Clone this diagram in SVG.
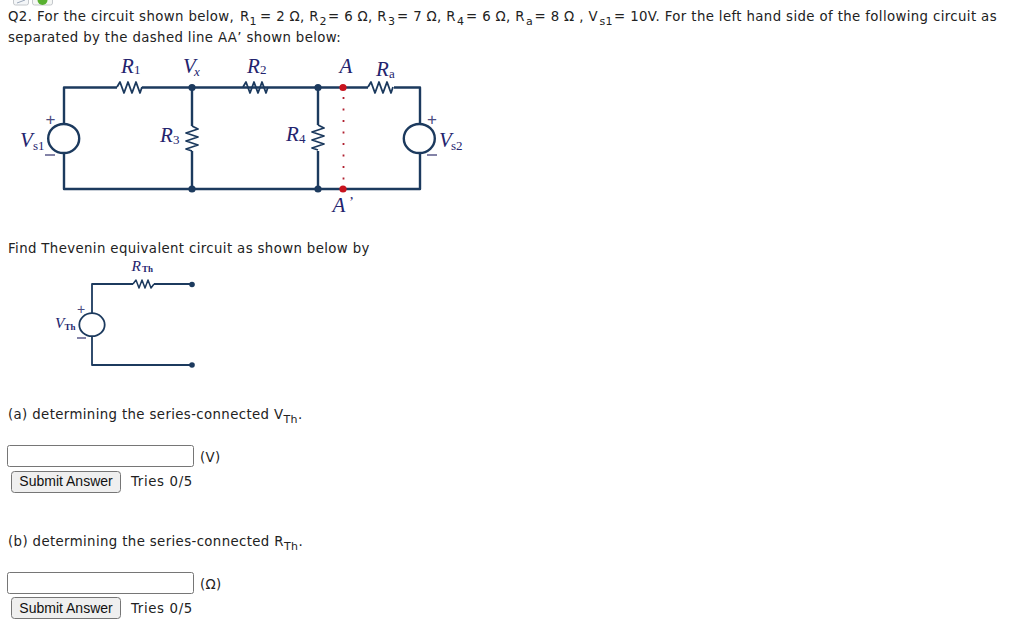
<svg xmlns="http://www.w3.org/2000/svg" width="1024" height="632" viewBox="0 0 1024 632">
<style>
.t{font-family:"DejaVu Sans",Verdana,sans-serif;font-size:13.3px;fill:#222;letter-spacing:.38px}
.y{letter-spacing:.65px}
.s{font-size:11px}
.m{font-family:"Liberation Serif",serif;fill:#24246e;font-style:italic;font-size:21px}
.u{font-family:"Liberation Serif",serif;fill:#24246e;font-size:13px}
.p{font-family:"Liberation Sans",sans-serif;fill:#4a4a80;font-size:17px}
.k{font-size:15.500px}
.h{font-size:9px;font-weight:bold}
.w{fill:none;stroke:#1c3a5e;stroke-width:2.400;stroke-linejoin:round}
.z{fill:none;stroke:#1c3a5e;stroke-width:1.800;stroke-linejoin:round}
.w2{fill:none;stroke:#1c3a5e;stroke-width:1.800;stroke-linejoin:round}
.n{stroke:#5a5a8a;stroke-width:1.500}
.b{font-family:"Liberation Sans",sans-serif;font-size:14px;fill:#111}
.d{fill:#1c3a5e}.r{fill:#c8141e}
.in{fill:#fff;stroke:#767676;stroke-width:1}
.btn{fill:#efefef;stroke:#767676;stroke-width:1}
</style>
<rect width="1024" height="632" fill="#fff"/>
<g id="icons">
<rect x="13.500" y="-6" width="15" height="11" rx="2" fill="#f4f6f8" stroke="#c4c8cc"/>
<path d="M17 3l8-3" stroke="#9aa6b8" fill="none"/>
<rect x="32.500" y="-6" width="20" height="11" rx="2" fill="#f4f6f4" stroke="#c4c8cc"/>
<circle cx="42.500" cy="0" r="5" fill="#58b030"/>
</g>
<g id="question">
<text class="t" y="21" xml:space="preserve"><tspan x="8">Q2. For the circuit shown below, </tspan><tspan x="240">R</tspan><tspan class="s" x="249.500" dy="4">1</tspan><tspan x="260" dy="-4">= 2 Ω, R</tspan><tspan class="s" x="319.500" dy="4">2</tspan><tspan x="328" dy="-4">= 6 Ω, R</tspan><tspan class="s" x="388" dy="4">3</tspan><tspan x="397" dy="-4">= 7 Ω, R</tspan><tspan class="s" x="457" dy="4">4</tspan><tspan x="466" dy="-4">= 6 Ω, R</tspan><tspan class="s" x="526" dy="4">a</tspan><tspan x="534.500" dy="-4">= 8 Ω , V</tspan><tspan class="s" x="599.500" dy="4">s1</tspan><tspan x="614" dy="-4">= 10V. For the left hand side of the following circuit as</tspan></text>
<text class="t" x="8" y="41.500">separated by the dashed line AA’ shown below:</text>
<text class="t" x="8" y="253">Find Thevenin equivalent circuit as shown below by</text>
<text class="t" x="8" y="419">(a) determining the series-connected V<tspan class="s" dy="4">Th</tspan><tspan dy="-4">.</tspan></text>
<text class="t" x="8" y="545.500">(b) determining the series-connected R<tspan class="s" dy="4">Th</tspan><tspan dy="-4">.</tspan></text>
</g>
<g id="connectors">
<path class="w" d="M64 124V87.500H117M142 87.500H368M394 87.500H420V124M420 153V189H64V153M192 87.500V126M192 151V189M318 87.500V125M318 151V189"/>
<path class="z" d="M117 87l3-5 4 11 4-11 4 11 4-11 4 11 2-6M243 87l3-5 4 11 4-11 4 11 4-11 4 11 2-6M368 87l3-5 4 11 4-11 4 11 4-11 4 11 2-6"/>
<path class="z" d="M192 126l6 3-12 4 12 4-12 4 12 4-12 4 6 2M318 125l6 3-12 4 12 4-12 4 12 4-12 4 6 2"/>
<line x1="343.500" y1="97" x2="343.500" y2="184" stroke="#b02030" stroke-width="1.800" stroke-dasharray="2 9.500"/>
<path class="w2" d="M92 313.500V284H133M154 284H192M92 336.500V365H192"/>
<path class="z" style="stroke-width:1.500" d="M133 284l3-4 3 8 3-8 3 8 3-8 3 8 3-4"/>
</g>
<g id="vs1"><ellipse class="w" cx="63.700" cy="138.500" rx="15.500" ry="14.500"/><text class="p" x="45.500" y="125">+</text><path class="n" d="M45 155h10"/><text class="m" x="20" y="147">V</text><text class="u" x="33" y="149.500">s1</text></g>
<g id="vs2"><ellipse class="w" cx="419.300" cy="138.500" rx="15.500" ry="14.500"/><text class="p" x="427" y="125">+</text><path class="n" d="M427 155h10"/><text class="m" x="439" y="146.500">V</text><text class="u" x="451" y="149.500">s2</text></g>
<g id="vth"><ellipse class="w2" cx="92" cy="324.700" rx="12.700" ry="11.500"/><text class="p" x="77" y="314" style="font-size:14px">+</text><path class="n" d="M77 338h9"/><text class="m k" x="55" y="328">V</text><text class="u h" x="64.500" y="330">Th</text></g>
<g id="nodes">
<circle class="d" cx="192" cy="87.500" r="3.600"/><circle class="d" cx="192" cy="189" r="3.600"/><circle class="d" cx="318" cy="87.500" r="3.600"/><circle class="d" cx="318" cy="189" r="3.600"/>
<circle class="r" cx="343" cy="87.500" r="3.600"/><circle class="r" cx="343" cy="189" r="3.600"/>
<circle class="d" cx="192" cy="284.500" r="2.800"/><circle class="d" cx="192" cy="365" r="2.800"/>
</g>
<g id="labels">
<text class="m" x="121" y="73">R</text><text class="u" x="134" y="74">1</text>
<text class="m" x="183" y="73">V</text><text class="u" x="194" y="76" style="font-style:italic">x</text>
<text class="m" x="247" y="73">R</text><text class="u" x="260" y="74">2</text>
<text class="m" x="339.500" y="73">A</text>
<text class="m" x="376" y="75.500">R</text><text class="u" x="389" y="78">a</text>
<text class="m" x="160" y="142">R</text><text class="u" x="173" y="143.500">3</text>
<text class="m" x="286" y="141">R</text><text class="u" x="299" y="143">4</text>
<text class="m" x="332.500" y="212">A</text><text class="m" x="349" y="207" style="font-style:normal;font-size:15px">’</text>
<text class="m k" x="131.500" y="270.500">R</text><text class="u h" x="142" y="272">Th</text>
</g>
<g id="answer-a">
<rect class="in" x="7.500" y="445.500" width="186" height="21" rx="2"/>
<text class="t" x="200" y="462">(V)</text>
<rect class="btn" x="11.500" y="471.500" width="109" height="21" rx="3"/>
<text class="b" x="66" y="486" text-anchor="middle">Submit Answer</text>
<text class="t y" x="131" y="486">Tries 0/5</text>
</g>
<g id="answer-b">
<rect class="in" x="7.500" y="572.500" width="186" height="21" rx="2"/>
<text class="t" x="200" y="588.500">(Ω)</text>
<rect class="btn" x="11.500" y="597.500" width="109" height="21" rx="3"/>
<text class="b" x="66" y="613" text-anchor="middle">Submit Answer</text>
<text class="t y" x="131" y="613">Tries 0/5</text>
</g>
</svg>
